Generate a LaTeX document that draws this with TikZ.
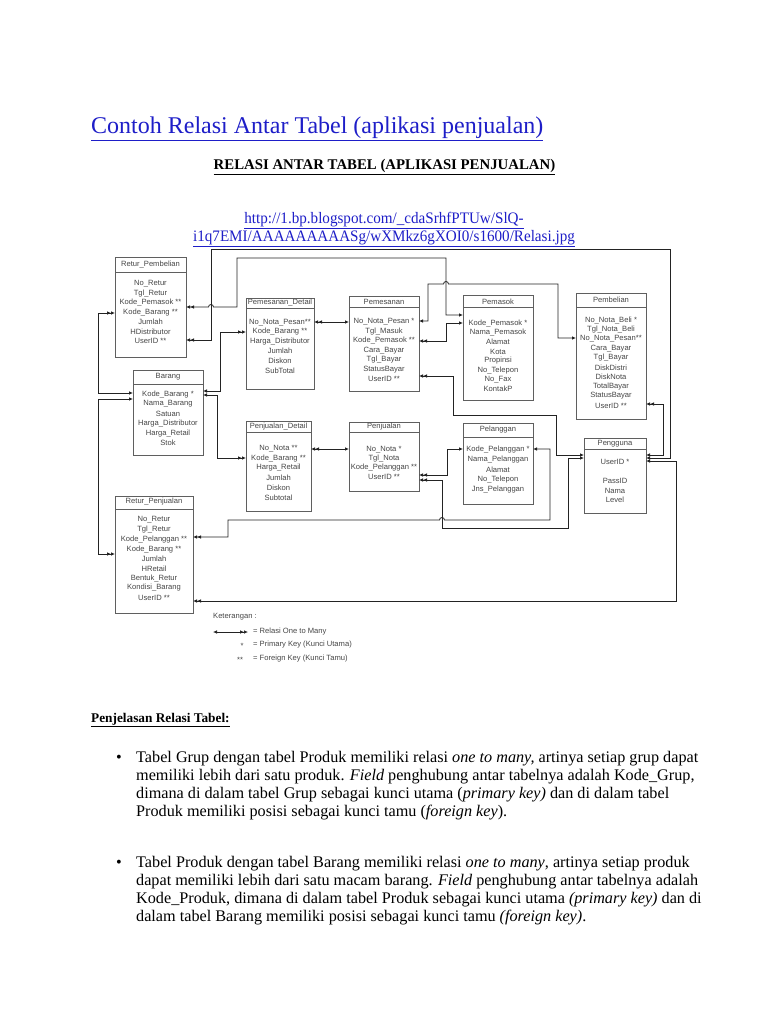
\documentclass[tikz,border=0pt]{standalone}
\usepackage{fontspec}
\usepackage{graphicx}
\setmainfont{Liberation Serif}
\newfontfamily\dsans{Liberation Sans}
\usetikzlibrary{arrows.meta}
\definecolor{linkblue}{RGB}{30,30,200}
\definecolor{boxc}{RGB}{95,95,95}
\definecolor{txtc}{RGB}{70,70,70}
\definecolor{linec}{RGB}{35,35,35}
\tikzset{
  one/.tip={Latex[length=4pt,width=3.6pt]},
  many/.tip={Latex[length=4pt,width=3.6pt] Latex[length=4pt,width=3.6pt]},
  tblbox/.style={draw=boxc, line width=0.8pt, inner sep=0pt, outer sep=0pt},
  tblline/.style={draw=boxc, line width=0.8pt},
  dtxt/.style={font=\dsans\fontsize{7.6}{8}\selectfont, text=txtc, inner sep=0pt},
  conn/.style={draw=linec, line width=0.8pt},
  ptxt/.style={anchor=base west, inner sep=0pt, font=\fontsize{16.2}{18}\selectfont},
}
\newcommand\dtable[8]{%
  \node[tblbox, anchor=north west, minimum width={#4-#2}, minimum height={#5-#3}] (#1) at (#2,#3) {};
  \draw[tblline] (#2,#6) -- (#4,#6);
  \node[dtxt] (#1-t) at ({(#2+#4)/2},#8) {#7};
}
\newcommand\dfields[4]{%
  \foreach \f [count=\i from 0] in {#4} {\node[dtxt] at (#1,{#2+\i*#3}) {\f};}
}
\begin{document}
\begin{tikzpicture}[x=1pt,y=-1pt]
\useasboundingbox[fill=white] (0,0) rectangle (768,1024);

% ---------- page text ----------
\node[anchor=base west, inner sep=0pt, text=linkblue, font=\fontsize{24}{28}\selectfont] (title) at (91,134) {\underline{Contoh Relasi Antar Tabel (aplikasi penjualan)}};
\node[anchor=base, inner sep=0pt, font=\bfseries\fontsize{14.8}{17}\selectfont] (sub) at (384.5,170) {\underline{RELASI ANTAR TABEL (APLIKASI PENJUALAN)}};
\node[anchor=base, inner sep=0pt, text=linkblue, font=\fontsize{16}{18}\selectfont] (url1) at (384,223) {\scalebox{0.945}[1]{\underline{http://1.bp.blogspot.com/\_cdaSrhfPTUw/SlQ-}}};
\node[anchor=base, inner sep=0pt, text=linkblue, font=\fontsize{16}{18}\selectfont] (url2) at (384,241) {\scalebox{0.945}[1]{\underline{i1q7EMI/AAAAAAAAASg/wXMkz6gXOI0/s1600/Relasi.jpg}}};

% ---------- tables ----------
\dtable{rpb}{115}{257}{186}{357}{272}{Retur\_Pembelian}{265}
\dfields{150.5}{284}{9.5}{No\_Retur, Tgl\_Retur, Kode\_Pemasok **, Kode\_Barang **, Jumlah, HDistributor, UserID **}

\dtable{br}{133}{370}{203}{455}{384}{Barang}{377}
\dfields{168}{394.3}{9.7}{Kode\_Barang *, Nama\_Barang, Satuan, Harga\_Distributor, Harga\_Retail, Stok}

\dtable{rpj}{115}{496}{193}{613}{509}{Retur\_Penjualan}{502}
\dfields{154}{520}{9.7}{No\_Retur, Tgl\_Retur, Kode\_Pelanggan **, Kode\_Barang **, Jumlah, HRetail, Bentuk\_Retur, Kondisi\_Barang, UserID **}

\dtable{pd}{246}{298}{314}{389}{308}{Pemesanan\_Detail}{303}
\dfields{280}{322.3}{9.6}{No\_Nota\_Pesan**, Kode\_Barang **, Harga\_Distributor, Jumlah, Diskon, SubTotal}

\dtable{pm}{349}{296}{419}{391}{307}{Pemesanan}{302}
\dfields{384}{322}{9.5}{No\_Nota\_Pesan *, Tgl\_Masuk, Kode\_Pemasok **, Cara\_Bayar, Tgl\_Bayar, StatusBayar, UserID **}

\dtable{pms}{463}{295}{533}{400}{307}{Pemasok}{301.5}
\dfields{498}{323.3}{9.4}{Kode\_Pemasok *, Nama\_Pemasok, Alamat, Kota, Propinsi, No\_Telepon, No\_Fax, KontakP}

\dtable{pb}{576}{293}{646}{419}{307}{Pembelian}{300}
\dfields{611}{320}{9.5}{No\_Nota\_Beli *, Tgl\_Nota\_Beli, No\_Nota\_Pesan**, Cara\_Bayar, Tgl\_Bayar, DiskDistri, DiskNota, TotalBayar, StatusBayar, UserID **}

\dtable{pjd}{246}{421}{311}{511}{432}{Penjualan\_Detail}{426.5}
\dfields{278.5}{448.3}{9.8}{No\_Nota **, Kode\_Barang **, Harga\_Retail, Jumlah, Diskon, Subtotal}

\dtable{pj}{349}{422}{419}{491}{432}{Penjualan}{427}
\dfields{384}{450}{9}{No\_Nota *, Tgl\_Nota, Kode\_Pelanggan **, UserID **}

\dtable{pl}{463}{423}{533}{504}{437}{Pelanggan}{430}
\dfields{498}{450}{9.8}{Kode\_Pelanggan *, Nama\_Pelanggan, Alamat, No\_Telepon, Jns\_Pelanggan}

\dtable{pg}{584}{438}{646}{513}{449}{Pengguna}{443.5}
\dfields{615}{461.7}{9.6}{UserID *, {}, PassID, Nama, Level}

% ---------- connector end points ----------
\coordinate (pd-nnp) at (314,322);
\coordinate (pm-nnp) at (349,322);
\coordinate (pjd-nn) at (311,449);
\coordinate (pj-nn) at (349,449);
\coordinate (br-r1) at (203,391);
\coordinate (br-r2) at (203,395);
\coordinate (pd-kb) at (246,332);
\coordinate (pjd-kb) at (246,458);
\coordinate (br-l1) at (133,393);
\coordinate (br-l2) at (133,399);
\coordinate (rpb-kb) at (115,313);
\coordinate (rpj-kb) at (115,554);
\coordinate (rpb-kp) at (186,307);
\coordinate (rpb-uid) at (186,340);
\coordinate (pms-k1) at (463,315);
\coordinate (pms-k2) at (463,323);
\coordinate (pm-kp) at (419,341);
\coordinate (pm-nnp-r) at (419,321);
\coordinate (pb-nnp) at (576,338);
\coordinate (pm-uid) at (419,376);
\coordinate (pb-uid) at (646,404);
\coordinate (pg-r1) at (646,455);
\coordinate (pg-r2) at (646,458);
\coordinate (pg-r3) at (646,461);
\coordinate (pg-l1) at (584,455);
\coordinate (pg-l2) at (584,458);
\coordinate (rpj-uid) at (193,601);
\coordinate (rpj-kp) at (193,537);
\coordinate (pj-kp) at (419,475);
\coordinate (pj-uid) at (419,480);
\coordinate (pl-l) at (463,449);
\coordinate (pl-r) at (533,449);

% ---------- connectors ----------
\draw[conn, {many}-{one}] (pd-nnp) -- (pm-nnp);
\draw[conn, {many}-{one}] (pjd-nn) -- (pj-nn);
\draw[conn, {one}-{many}] (br-r1) -- (220,391) -- (220,332) -- (pd-kb);
\draw[conn, {one}-{many}] (br-r2) -- (217,395) -- (217,458) -- (pjd-kb);
\draw[conn, {one}-{many}] (br-l1) -- (98,393) -- (98,313) -- (rpb-kb);
\draw[conn, {one}-{many}] (br-l2) -- (98,399) -- (98,554) -- (rpj-kb);
\draw[conn, {many}-{one}] (rpb-kp) -- (208.5,307) arc[start angle=180,end angle=360,radius=2.5] -- (237,307) -- (237,258) -- (446,258) -- (446,315) -- (pms-k1);
\draw[conn, {many}-{one}] (rpb-uid) -- (211,340) -- (211,249) -- (670,249) -- (670,458) -- (pg-r2);
\draw[conn, {many}-{one}] (pm-kp) -- (446,341) -- (446,323) -- (pms-k2);
\draw[conn, {one}-{one}] (pm-nnp-r) -- (428,321) -- (428,284) -- (443.5,284) arc[start angle=180,end angle=360,radius=2.5] -- (558,284) -- (558,338) -- (pb-nnp);
\draw[conn, {many}-{one}] (pm-uid) -- (453,376) -- (453,415) -- (556,415) -- (556,455) -- (pg-l1);
\draw[conn, {many}-{one}] (pb-uid) -- (663,404) -- (663,455) -- (pg-r1);
\draw[conn, {many}-{one}] (rpj-uid) -- (676,601) -- (676,461) -- (pg-r3);
\draw[conn, {many}-{one}] (pj-kp) -- (447,475) -- (447,449) -- (pl-l);
\draw[conn, {many}-{one}] (pj-uid) -- (442,480) -- (442,528) -- (568,528) -- (568,458) -- (pg-l2);
\draw[conn, {many}-{one}] (rpj-kp) -- (228,537) -- (228,520) -- (439.5,520) arc[start angle=180,end angle=360,radius=2.5] -- (550,520) -- (550,449) -- (pl-r);

% ---------- legend ----------
\node[dtxt, anchor=west] (ket) at (213,617) {Keterangan :};
\coordinate (lg-a) at (213,632);
\coordinate (lg-b) at (248,632);
\draw[conn, line width=0.7pt, {one}-{many}] (lg-a) -- (lg-b);
\node[dtxt, anchor=west] (lg1) at (253,632) {= Relasi One to Many};
\node[dtxt] (lgs1) at (242,646) {*};
\node[dtxt, anchor=west] (lg2) at (253,645) {= Primary Key (Kunci Utama)};
\node[dtxt] (lgs2) at (240,660) {**};
\node[dtxt, anchor=west] (lg3) at (253,659) {= Foreign Key (Kunci Tamu)};

% ---------- explanation ----------
\node[anchor=base west, inner sep=0pt, font=\bfseries\fontsize{13.3}{16}\selectfont] (pj-h) at (91,722) {\underline{Penjelasan Relasi Tabel:}};
\node[ptxt] (b1) at (116,762) {•};
\node[ptxt] (l1) at (136,762) {Tabel Grup dengan tabel Produk memiliki relasi \textit{one to many,} artinya setiap grup dapat};
\node[ptxt] (l2) at (136,780) {memiliki lebih dari satu produk. \textit{Field} penghubung antar tabelnya adalah Kode\_Grup,};
\node[ptxt] (l3) at (136,798) {dimana di dalam tabel Grup sebagai kunci utama (\textit{primary key)} dan di dalam tabel};
\node[ptxt] (l4) at (136,816) {Produk memiliki posisi sebagai kunci tamu (\textit{foreign key}).};
\node[ptxt] (b2) at (116,867) {•};
\node[ptxt] (l5) at (136,867) {Tabel Produk dengan tabel Barang memiliki relasi \textit{one to many}, artinya setiap produk};
\node[ptxt] (l6) at (136,885) {dapat memiliki lebih dari satu macam barang. \textit{Field} penghubung antar tabelnya adalah};
\node[ptxt] (l7) at (136,903) {Kode\_Produk, dimana di dalam tabel Produk sebagai kunci utama \textit{(primary key)} dan di};
\node[ptxt] (l8) at (136,921) {dalam tabel Barang memiliki posisi sebagai kunci tamu \textit{(foreign key)}.};
\end{tikzpicture}
\end{document}
